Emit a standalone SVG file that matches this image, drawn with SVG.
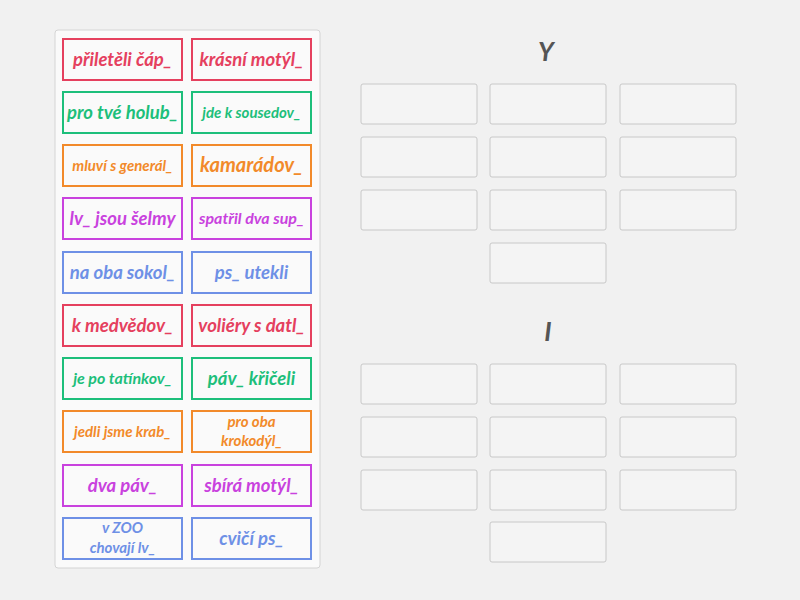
<svg xmlns="http://www.w3.org/2000/svg" width="800" height="600" viewBox="0 0 800 600">
<style>
.bg{fill:#f1f1f1}
.panel{fill:#fafafa;stroke:#d4d4d4;stroke-width:1}
.card{fill:#fafafa;stroke-width:2}
.t{font-family:Lato,"Open Sans",sans-serif;font-style:italic;font-weight:bold;font-size:18.5px;text-anchor:middle}
.s{font-size:15px}
.slot{fill:#f4f4f4;stroke:#c8c8c8;stroke-width:1}
.h{font-family:Lato,sans-serif;font-style:italic;font-weight:bold;font-size:26px;fill:#555;text-anchor:middle}
.r{fill:#e5405e}
.g{fill:#1dbf7b}
.o{fill:#f28a2a}
.m{fill:#c942de}
.b{fill:#6e90e6}
</style>
<rect class="bg" width="800" height="600"/>
<rect class="panel" x="55" y="30" width="265" height="538" rx="3"/>
<g id="cards">
<g id="c1"><rect class="card" x="63" y="39" width="119" height="41" style="stroke:#e5405e"/><text class="t r" x="122.5" y="66">přiletěli čáp_</text></g>
<g id="c2"><rect class="card" x="192" y="39" width="119" height="41" style="stroke:#e5405e"/><text class="t r" x="251.5" y="66">krásní motýl_</text></g>
<g id="c3"><rect class="card" x="63" y="92" width="119" height="41" style="stroke:#1dbf7b"/><text class="t g" x="122.5" y="119">pro tvé holub_</text></g>
<g id="c4"><rect class="card" x="192" y="92" width="119" height="41" style="stroke:#1dbf7b"/><text class="t g s" x="251.5" y="118">jde k sousedov_</text></g>
<g id="c5"><rect class="card" x="63" y="145" width="119" height="41" style="stroke:#f28a2a"/><text class="t o s" x="122.5" y="171">mluví s generál_</text></g>
<g id="c6"><rect class="card" x="192" y="145" width="119" height="41" style="stroke:#f28a2a"/><text class="t o" style="font-size:20px" x="251.5" y="172">kamarádov_</text></g>
<g id="c7"><rect class="card" x="63" y="198" width="119" height="41" style="stroke:#c942de"/><text class="t m" x="122.5" y="225">lv_ jsou šelmy</text></g>
<g id="c8"><rect class="card" x="192" y="198" width="119" height="41" style="stroke:#c942de"/><text class="t m" style="font-size:16px" x="251.5" y="224">spatřil dva sup_</text></g>
<g id="c9"><rect class="card" x="63" y="252" width="119" height="41" style="stroke:#6e90e6"/><text class="t b" x="122.5" y="279">na oba sokol_</text></g>
<g id="c10"><rect class="card" x="192" y="252" width="119" height="41" style="stroke:#6e90e6"/><text class="t b" x="251.5" y="279">ps_ utekli</text></g>
<g id="c11"><rect class="card" x="63" y="305" width="119" height="41" style="stroke:#e5405e"/><text class="t r" x="122.5" y="332">k medvědov_</text></g>
<g id="c12"><rect class="card" x="192" y="305" width="119" height="41" style="stroke:#e5405e"/><text class="t r" x="251.5" y="332">voliéry s datl_</text></g>
<g id="c13"><rect class="card" x="63" y="358" width="119" height="41" style="stroke:#1dbf7b"/><text class="t g" style="font-size:16px" x="122.5" y="384">je po tatínkov_</text></g>
<g id="c14"><rect class="card" x="192" y="358" width="119" height="41" style="stroke:#1dbf7b"/><text class="t g" x="251.5" y="385">páv_ křičeli</text></g>
<g id="c15"><rect class="card" x="63" y="411" width="119" height="41" style="stroke:#f28a2a"/><text class="t o s" x="122.5" y="437">jedli jsme krab_</text></g>
<g id="c16"><rect class="card" x="192" y="411" width="119" height="41" style="stroke:#f28a2a"/><text class="t o s" x="251.5" y="427">pro oba</text><text class="t o s" x="251.5" y="446">krokodýl_</text></g>
<g id="c17"><rect class="card" x="63" y="465" width="119" height="41" style="stroke:#c942de"/><text class="t m" x="122.5" y="492">dva páv_</text></g>
<g id="c18"><rect class="card" x="192" y="465" width="119" height="41" style="stroke:#c942de"/><text class="t m" x="251.5" y="492">sbírá motýl_</text></g>
<g id="c19"><rect class="card" x="63" y="518" width="119" height="41" style="stroke:#6e90e6"/><text class="t b s" x="122.5" y="533">v ZOO</text><text class="t b s" x="122.5" y="553">chovají lv_</text></g>
<g id="c20"><rect class="card" x="192" y="518" width="119" height="41" style="stroke:#6e90e6"/><text class="t b" x="251.5" y="545">cvičí ps_</text></g>
</g>
<g id="groupY">
<text class="h" x="546" y="61">Y</text>
<rect class="slot" x="361" y="84" width="116" height="40" rx="2"/><rect class="slot" x="490" y="84" width="116" height="40" rx="2"/><rect class="slot" x="620" y="84" width="116" height="40" rx="2"/>
<rect class="slot" x="361" y="137" width="116" height="40" rx="2"/><rect class="slot" x="490" y="137" width="116" height="40" rx="2"/><rect class="slot" x="620" y="137" width="116" height="40" rx="2"/>
<rect class="slot" x="361" y="190" width="116" height="40" rx="2"/><rect class="slot" x="490" y="190" width="116" height="40" rx="2"/><rect class="slot" x="620" y="190" width="116" height="40" rx="2"/>
<rect class="slot" x="490" y="243" width="116" height="40" rx="2"/>
</g>
<g id="groupI">
<text class="h" x="548" y="341">I</text>
<rect class="slot" x="361" y="364" width="116" height="40" rx="2"/><rect class="slot" x="490" y="364" width="116" height="40" rx="2"/><rect class="slot" x="620" y="364" width="116" height="40" rx="2"/>
<rect class="slot" x="361" y="417" width="116" height="40" rx="2"/><rect class="slot" x="490" y="417" width="116" height="40" rx="2"/><rect class="slot" x="620" y="417" width="116" height="40" rx="2"/>
<rect class="slot" x="361" y="470" width="116" height="40" rx="2"/><rect class="slot" x="490" y="470" width="116" height="40" rx="2"/><rect class="slot" x="620" y="470" width="116" height="40" rx="2"/>
<rect class="slot" x="490" y="522" width="116" height="40" rx="2"/>
</g>
</svg>
